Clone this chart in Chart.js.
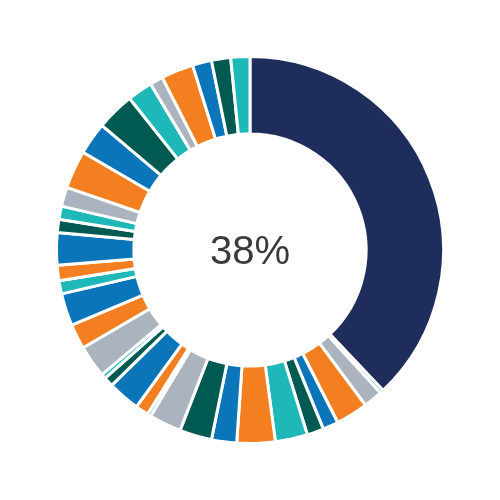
<!DOCTYPE html><html><head><script src="https://cdn.jsdelivr.net/npm/chart.js"></script>
<style>body{margin:0;background:#fff}#w{width:500px;height:500px;position:relative}#c{position:absolute;left:50%;top:50%;transform:translate(-50%,-50%);font:40px "Liberation Sans",Arial,sans-serif;color:#3a3a3a}</style></head><body>
<div id="w"><canvas id="cv"></canvas><div id="c">38%</div></div>
<script>
const N='#1f2d5c',T='#1fb8b8',G='#aab3be',O='#f47f20',B='#0a75b9',D='#005a52';
const values=[38,0.3,1.6,2.7,1.3,1.4,2.7,3.2,2.1,2.7,2.7,0.3,1.1,2.7,0.8,0.4,2.7,2.1,2.7,1.1,1.3,2.7,1.1,1.1,1.6,3.2,2.7,3.2,2.1,1.1,2.7,1.6,1.6,1.6];
const colors=[N,T,G,O,B,D,T,O,B,D,G,T,O,B,D,T,G,O,B,T,O,B,D,T,G,O,B,D,T,G,O,B,D,T];
const labels=values.map((v,i)=>'S'+(i+1));
new Chart(document.getElementById('cv'),{type:'doughnut',data:{labels,datasets:[{data:values,backgroundColor:colors,borderColor:'#fff',borderWidth:3}]},
options:{responsive:true,maintainAspectRatio:false,animation:false,cutout:'60%',layout:{padding:55},plugins:{legend:{display:false},tooltip:{enabled:false}}}});
</script></body></html>
